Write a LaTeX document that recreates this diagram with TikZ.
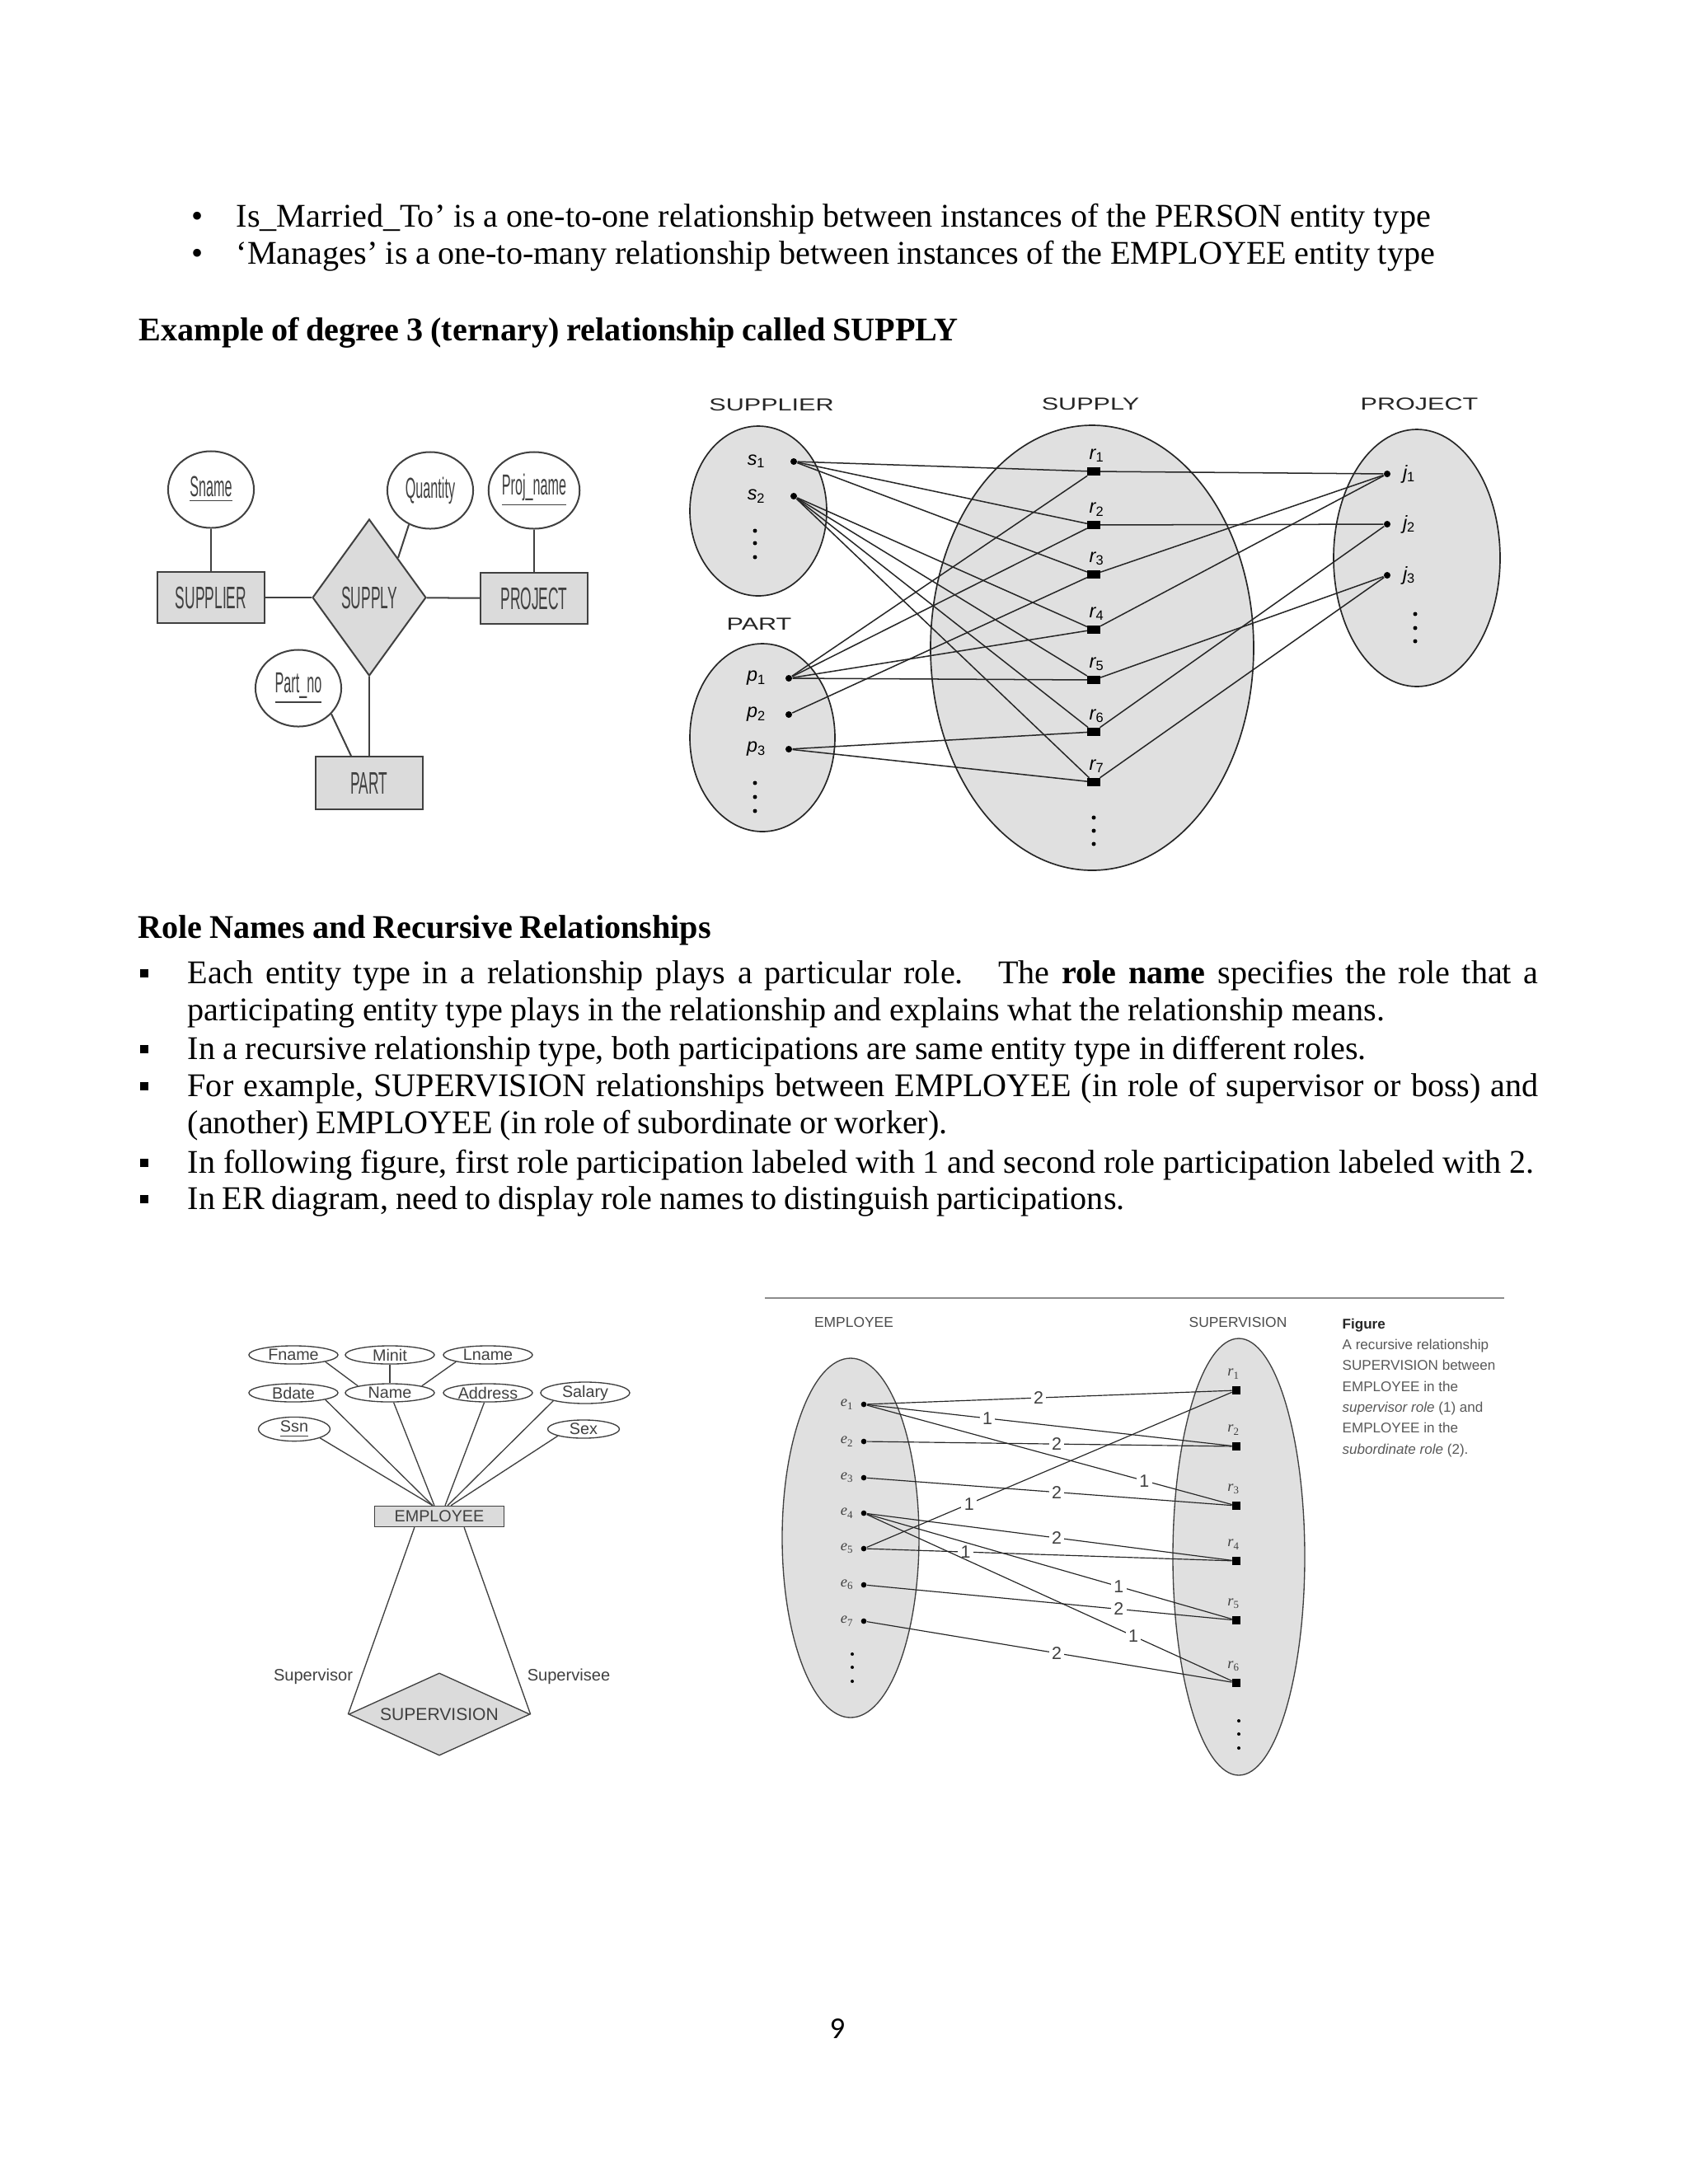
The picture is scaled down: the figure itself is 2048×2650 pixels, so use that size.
\documentclass[tikz,border=0pt]{standalone}
\usepackage{fontspec}
\setmainfont{Liberation Serif}
\setsansfont{Liberation Sans}
\newfontfamily\narrowsf[FakeStretch=0.46]{Liberation Sans}
\newfontfamily\widesf[FakeStretch=1.45]{Liberation Sans}
\newfontfamily\pagefont{Carlito}
\usepackage{xcolor}
\usepackage{tikz}
\usetikzlibrary{shapes.geometric,positioning,calc}

\definecolor{setgray}{gray}{0.88}
\definecolor{boxgray}{gray}{0.86}
\definecolor{inkgray}{gray}{0.25}

\tikzset{
  bodytext/.style={anchor=base west, inner sep=0, font=\fontsize{12bp}{14bp}\selectfont},
  headtext/.style={bodytext, font=\fontsize{12bp}{14bp}\selectfont\bfseries},
  entity/.style={draw=inkgray, fill=boxgray, line width=0.6bp, inner sep=0, text=inkgray,
    font=\narrowsf\fontsize{11.3bp}{12bp}\selectfont, minimum width=38.8bp, minimum height=18.5bp},
  relation/.style={diamond, draw=inkgray, fill=boxgray, line width=0.6bp, inner sep=0, text=inkgray,
    font=\narrowsf\fontsize{11.3bp}{12bp}\selectfont},
  attrib/.style={ellipse, draw=inkgray, fill=white, line width=0.6bp, inner sep=0, text=inkgray,
    font=\narrowsf\fontsize{10.5bp}{12bp}\selectfont, minimum width=31.1bp, minimum height=27.8bp},
  link/.style={draw=inkgray, line width=0.6bp},
  eattr/.style={ellipse, draw=inkgray, line width=0.4bp, inner sep=0, text=inkgray,
    font=\sffamily\fontsize{5.9bp}{6bp}\selectfont, minimum width=32.3bp, minimum height=6.6bp},
  eentity/.style={draw=inkgray, fill=boxgray, line width=0.4bp, inner sep=0, text=inkgray,
    font=\sffamily\fontsize{5.9bp}{6bp}\selectfont, minimum width=46.9bp, minimum height=7.5bp},
  erel/.style={diamond, aspect=2.2, draw=inkgray, fill=boxgray, line width=0.4bp, inner sep=0, text=inkgray,
    font=\sffamily\fontsize{6.3bp}{7bp}\selectfont, minimum width=65.7bp, minimum height=29.9bp},
  elink/.style={draw=inkgray, line width=0.4bp},
  rolename/.style={text=inkgray, font=\sffamily\fontsize{6bp}{7bp}\selectfont},
  setname/.style={text=black!85, font=\widesf\fontsize{6.3bp}{7bp}\selectfont},
  setline/.style={draw=black!85, line width=0.5bp, fill=setgray},
  edot/.style={circle, fill=black, inner sep=0, minimum size=2.4bp},
  rbox/.style={fill=black, inner sep=0, minimum width=4.5bp, minimum height=2.8bp},
  inst/.style={draw=black!85, line width=0.45bp},
  instlabel/.style={inner sep=0, font=\sffamily\fontsize{7bp}{8bp}\selectfont},
  svname/.style={text=black!70, font=\sffamily\fontsize{5.2bp}{6bp}\selectfont},
  svline/.style={draw=black!75, line width=0.4bp, fill=setgray},
  svlabel/.style={inner sep=0, text=black!75, font=\fontsize{5.5bp}{6bp}\selectfont},
  rolenum/.style={fill=white, inner sep=1bp, text=black!75, font=\sffamily\fontsize{6.4bp}{7bp}\selectfont},
  captext/.style={anchor=base west, inner sep=0, text=black!65, font=\sffamily\fontsize{5.1bp}{6bp}\selectfont}
}

\begin{document}
\begin{tikzpicture}[x=0.2988bp, y=-0.2988bp]
    \fill[white] (0,0) rectangle (2048,2650);
    \useasboundingbox (0,0) rectangle (2048,2650);

    \node[bodytext] (bul1) at (232,275) {\textbullet};
    \node[bodytext] (top1) at (286,275) {\makebox[433bp][s]{Is\_Married\_To’ is a one-to-one relationship between instances of the PERSON entity type}};
    \node[bodytext] (bul2) at (232,320) {\textbullet};
    \node[bodytext] (top2) at (286,320) {\makebox[434.5bp][s]{‘Manages’ is a one-to-many relationship between instances of the EMPLOYEE entity type}};
    \node[headtext] (head1) at (168,413) {\makebox[297bp][s]{Example of degree 3 (ternary) relationship called SUPPLY}};

    \node[entity] (SUPPLIER) at (256,725) {SUPPLIER};
    \node[relation, minimum width=41.2bp, minimum height=56.8bp, aspect=0.73] (SUPPLY) at (448,725) {SUPPLY};
    \node[entity] (PROJECT) at (648,726) {PROJECT};
    \node[entity, minimum height=19.1bp] (PART) at (448,950) {PART};
    \node[attrib] (Sname) at (256,594) {\underline{Sname}};
    \node[attrib] (Quantity) at (522,595) {Quantity};
    \node[attrib] (Projname) at (648,595) {\underline{Proj\_name}};
    \node[attrib] (Partno) at (362,835) {\underline{Part\_no}};
    \draw[link] (Sname) -- (SUPPLIER);
    \draw[link] (SUPPLIER) -- (SUPPLY);
    \draw[link] (SUPPLY) -- (PROJECT);
    \draw[link] (Projname) -- (PROJECT);
    \draw[link] (SUPPLY) -- (PART);
    \draw[link] (Quantity.238) -- (SUPPLY.north east);
    \draw[link] (Partno.322) -- ([xshift=-6.6bp]PART.north);

    \node[setname] (supplierset) at (936,491) {SUPPLIER};
    \node[setname] (supplyset) at (1323,490) {SUPPLY};
    \node[setname] (projectset) at (1722,490) {PROJECT};
    \node[setname] (partset) at (921,757) {PART};
    \draw[setline] (920,620) ellipse [x radius=83, y radius=103];
    \draw[setline] (925,895) ellipse [x radius=88, y radius=114];
    \draw[setline] (1325,786) ellipse [x radius=196, y radius=270];
    \draw[setline] (1719,677) ellipse [x radius=101, y radius=156];
    \foreach \i/\y in {1/560,2/602} {
        \node[edot] (s\i) at (963,\y) {};
        \node[instlabel] at (918,\y) {\itshape s\textsubscript{\upshape\i}};
    }
    \foreach \i/\y in {1/823,2/867,3/909} {
        \node[edot] (p\i) at (957,\y) {};
        \node[instlabel] at (918,\y) {\itshape p\textsubscript{\upshape\i}};
    }
    \foreach \i/\y in {1/572,2/637,3/697,4/764,5/825,6/888,7/949} {
        \node[rbox] (r\i) at (1327,\y) {};
        \node[instlabel] at (1331,\y-19) {\itshape r\textsubscript{\upshape\i}};
    }
    \foreach \i/\y in {1/575,2/636,3/698} {
        \node[edot] (j\i) at (1683,\y) {};
        \node[instlabel] at (1710,\y) {\itshape j\textsubscript{\upshape\i}};
    }
    \foreach \y in {644,659,676} \fill (916,\y) circle [radius=2.5];
    \foreach \y in {950,967,984} \fill (916,\y) circle [radius=2.5];
    \foreach \y in {992,1008,1024} \fill (1327,\y) circle [radius=2.5];
    \foreach \y in {745,762,778} \fill (1717,\y) circle [radius=2.5];
    \foreach \a/\b in {s1/r1,s1/r2,s1/r3,s2/r4,s2/r5,s2/r6,s2/r7,p1/r1,p1/r2,p2/r3,p1/r4,p1/r5,p3/r6,p3/r7,r1/j1,r2/j2,r3/j1,r4/j1,r5/j3,r6/j2,r7/j3}
        \draw[inst] (\a) -- (\b);

    \node[headtext] (head2) at (167,1138) {\makebox[207.7bp][s]{Role Names and Recursive Relationships}};
    \foreach \y in {1193,1285,1330,1423,1467}
        \node[bodytext] at (169,\y) {\rule[2.1bp]{3bp}{3bp}};
    \node[bodytext] (item1) at (227,1193) {\makebox[489.7bp][s]{Each entity type in a relationship plays a particular role. \ The \textbf{role name} specifies the role that a}};
    \node[bodytext] (item1b) at (227,1238) {\makebox[433.9bp][s]{participating entity type plays in the relationship and explains what the relationship means.}};
    \node[bodytext] (item2) at (227,1285) {\makebox[427.3bp][s]{In a recursive relationship type, both participations are same entity type in different roles.}};
    \node[bodytext] (item3) at (227,1330) {\makebox[489.7bp][s]{For example, SUPERVISION relationships between EMPLOYEE (in role of supervisor or boss) and}};
    \node[bodytext] (item3b) at (227,1375) {\makebox[275.5bp][s]{(another) EMPLOYEE (in role of subordinate or worker).}};
    \node[bodytext] (item4) at (227,1423) {\makebox[488.2bp][s]{In following figure, first role participation labeled with 1 and second role participation labeled with 2.}};
    \node[bodytext] (item5) at (227,1467) {\makebox[339.7bp][s]{In ER diagram, need to display role names to distinguish participations.}};

    \node[eattr] (Fname) at (356,1644) {Fname};
    \node[eattr] (Minit) at (473,1644) {Minit};
    \node[eattr] (Lname) at (592,1644) {Lname};
    \node[eattr] (Bdate) at (356,1690) {Bdate};
    \node[eattr] (Name) at (473,1690) {Name};
    \node[eattr] (Address) at (592,1690) {Address};
    \node[eattr] (Salary) at (710,1690) {Salary};
    \node[eattr, minimum width=26bp] (Ssn) at (357,1734) {\underline{Ssn}};
    \node[eattr, minimum width=26bp] (Sex) at (708,1734) {Sex};
    \node[eentity] (EMP) at (533,1840) {EMPLOYEE};
    \node[erel] (SUPV) at (533,2080) {SUPERVISION};
    \draw[elink] (Fname.south east) -- (Name.north west);
    \draw[elink] (Minit) -- (Name);
    \draw[elink] (Lname.south west) -- (Name.north east);
    \draw[elink] (Ssn.south east) -- ([xshift=-2.4bp]EMP.north);
    \draw[elink] (Bdate.south east) -- ([xshift=-2.4bp]EMP.north);
    \draw[elink] (Name) -- ([xshift=-1.8bp]EMP.north);
    \draw[elink] (Address) -- ([xshift=2.1bp]EMP.north);
    \draw[elink] (Salary.south west) -- ([xshift=3bp]EMP.north);
    \draw[elink] (Sex.south west) -- ([xshift=4.2bp]EMP.north);
    \draw[elink] ([xshift=-9bp]EMP.south) -- (SUPV.west);
    \draw[elink] ([xshift=9bp]EMP.south) -- (SUPV.east);
    \node[rolename] (supvr) at (380,2034) {Supervisor};
    \node[rolename] (supve) at (690,2034) {Supervisee};

    \draw[black!45, line width=0.6bp] (928,1575) -- (1825,1575);
    \node[svname] (empset) at (1036,1604) {EMPLOYEE};
    \node[svname] (supvset) at (1502,1604) {SUPERVISION};
    \draw[svline] (1032,1866) ellipse [x radius=83, y radius=218];
    \draw[svline] (1503,1889) ellipse [x radius=80, y radius=265];
    \foreach \i/\y in {1/1704,2/1749,3/1793,4/1836,5/1879,6/1923,7/1967} {
        \node[edot, minimum size=2bp] (e\i) at (1048,\y) {};
        \node[svlabel] at (1028,\y) {\itshape e\textsubscript{\upshape\i}};
    }
    \foreach \i/\y in {1/1687,2/1755,3/1827,4/1894,5/1966,6/2042} {
        \node[rbox, minimum width=2.8bp, minimum height=2.8bp] (sr\i) at (1500,\y) {};
        \node[svlabel] at (1497,\y-20) {\itshape r\textsubscript{\upshape\i}};
    }
    \foreach \y in {2007,2023,2040} \fill (1034,\y) circle [radius=2];
    \foreach \y in {2088,2104,2121} \fill (1503,\y) circle [radius=2];
    \foreach \a/\b/\t/\p in {e1/sr1/2/0.47,e1/sr2/1/0.33,e1/sr3/1/0.76,e2/sr2/2/0.52,e3/sr3/2/0.52,e5/sr1/1/0.28,e4/sr4/2/0.52,e5/sr4/1/0.27,e4/sr5/1/0.69,e6/sr5/2/0.69,e4/sr6/1/0.73,e7/sr6/2/0.52}
        \draw[inst, line width=0.35bp] (\a) -- node[rolenum, pos=\p] {\t} (\b);
    \node[captext, text=black!85] (cap0) at (1628,1612) {\bfseries Figure};
    \foreach \i/\y/\txt in {1/1637/{A recursive relationship},2/1662/{SUPERVISION between},3/1688/{EMPLOYEE in the},4/1713/{\itshape supervisor role \upshape(1) and},5/1738/{EMPLOYEE in the},6/1764/{\itshape subordinate role \upshape(2).}}
        \node[captext] (cap\i) at (1628,\y) {\txt};

    \node[font=\pagefont\fontsize{11bp}{13bp}\selectfont] (pagenum) at (1016,2462) {9};
\end{tikzpicture}
\end{document}
